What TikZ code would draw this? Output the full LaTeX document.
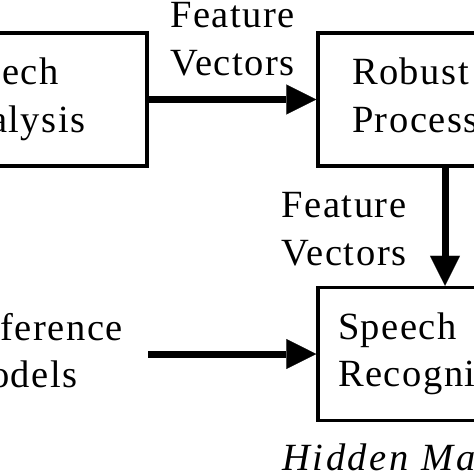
\documentclass[tikz,border=0pt]{standalone}
\usepackage{fontspec}
\setmainfont{Liberation Serif}[LetterSpace=4]
\usetikzlibrary{arrows.meta}
\tikzset{
  txt/.style={font=\fontsize{38.5pt}{47.5pt}\selectfont, inner sep=0pt},
  blockbox/.style={txt, draw=black, line width=3.5pt, align=left,
    minimum height=133pt, inner ysep=0pt},
  flow/.style={line width=7pt, -{Triangle[length=30pt,width=30pt,line width=0.1pt]}},
  lbl/.style={txt, align=center},
}
\begin{document}
\begin{tikzpicture}[x=1pt,y=-1pt]
\useasboundingbox (0,0) rectangle (474,474);
\clip (0,0) rectangle (474,474);
\fill[white] (0,0) rectangle (474,474);
\node[blockbox, text width=173pt, inner xsep=34pt] (ana) at (26.5,99.5) {Speech\\Analysis};
\node[blockbox, text width=186pt, inner xsep=34pt] (rob) at (445,99.5) {Robust\\Processing};
\node[blockbox, text width=214pt, inner xsep=20pt] (rec) at (445,354) {Speech\\Recognition};
\node[txt, align=left, inner xsep=25pt, anchor=east] (ref) at (148,350.5) {Reference\\Models};
\node[lbl] (fv1) at (232.5,39) {Feature\\Vectors};
\node[lbl] (fv2) at (344,229) {Feature\\Vectors};
\node[txt, anchor=base west, font=\fontsize{38.5pt}{47.5pt}\selectfont\itshape\addfontfeatures{LetterSpace=7}] (hmm) at (282,470) {Hidden Markov Models};
\draw[flow] (ana.east) -- (rob.west);
\draw[flow] (rob.south) -- (rec.north);
\draw[flow] (ref.east |- rec.west) -- (rec.west);
\end{tikzpicture}
\end{document}
